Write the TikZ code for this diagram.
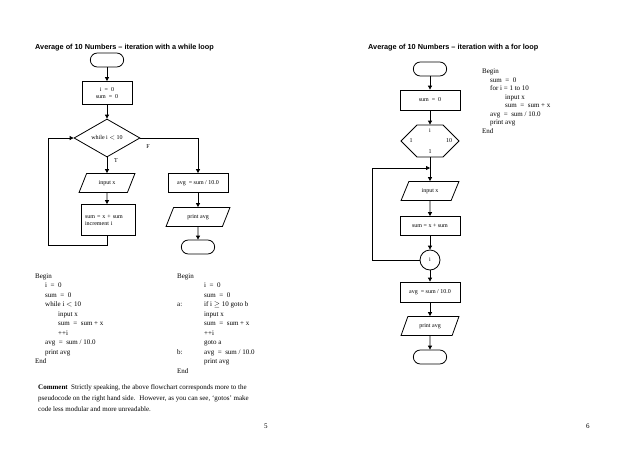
\documentclass[tikz,border=0pt]{standalone}
\usepackage{fontspec}
\setmainfont{Liberation Serif}
\setsansfont{Liberation Sans}
\usetikzlibrary{shapes.geometric,shapes.misc,shapes.symbols,arrows.meta}
\begin{document}
\begin{tikzpicture}[x=1pt,y=-1pt,
  every node/.style={font=\fontsize{6}{7}\selectfont},
  term/.style={draw,thick,rounded rectangle,minimum width=40pt,minimum height=14pt},
  proc/.style={draw,thick,rectangle,align=left},
  io/.style={draw,thick,trapezium,trapezium left angle=70,trapezium right angle=110,minimum height=19pt,trapezium stretches=true},
  dec/.style={draw,thick,diamond,aspect=1.75,inner sep=1pt},
  hex/.style={draw,thick,signal,signal to=east and west,minimum width=58pt,minimum height=32pt},
  conn/.style={draw,thick,circle,minimum size=20pt,inner sep=0pt},
  arr/.style={thick,-{Triangle[length=4pt,width=4pt]}},
  code/.style={anchor=base west,inner sep=0pt,font=\fontsize{7}{8}\selectfont},
  ttl/.style={anchor=base west,inner sep=0pt,font=\sffamily\bfseries\fontsize{7.3}{8}\selectfont}]
\useasboundingbox[fill=white] (0,0) rectangle (638,451);
% titles
\node[ttl] (t1) at (35,49) {Average of 10 Numbers -- iteration with a while loop};
\node[ttl] (t2) at (368,49) {Average of 10 Numbers -- iteration with a for loop};
% left chart
\node[term] (s1) at (107,60) {};
\node[proc,align=center,minimum width=50pt,minimum height=23pt] (b1) at (107,93) {i \ = \ 0\\sum \ = \ 0};
\node[dec,minimum width=66pt,minimum height=38pt] (d1) at (107,138) {while i $<$ 10};
\node[io,minimum width=56pt] (in1) at (107,183) {input x};
\node[proc,minimum width=54pt,minimum height=31pt,text width=46pt] (b2) at (108,220) {sum = x + sum\\increment i};
\node[proc,minimum width=60pt,minimum height=19pt] (avg1) at (198,183) {avg \ = sum / 10.0};
\node[io,minimum width=64pt] (p1) at (198,217) {print avg};
\node[term] (e1) at (198,247) {};
\node (F) at (148,147) {F};
\node (T) at (116,161) {T};
\coordinate (l1) at (107,245);
\coordinate (l2) at (48,245);
\coordinate (l3) at (48,138);
\draw[arr] (s1) -- (b1);
\draw[arr] (b1) -- (d1);
\draw[arr] (d1) -- (in1);
\draw[arr] (in1) -- (b2.north -| in1);
\draw[thick] (b2.south -| l1) -- (l1) -- (l2) -- (l3);
\draw[arr] (l3) -- (d1.west);
\draw[arr] (d1.east) -| (avg1.north);
\draw[arr] (avg1) -- (p1);
\draw[arr] (p1) -- (e1);
% right chart
\node[term] (s2) at (430,69) {};
\node[proc,minimum width=60pt,minimum height=20pt] (b3) at (430,100) {sum \ = \ 0};
\node[hex] (h) at (430,141) {};
\node (hi) at (430,131) {i};
\node (h1) at (411,141) {1};
\node (h10) at (449,141) {10};
\node (h1b) at (430,152) {1};
\coordinate (j) at (430,168);
\node[io,minimum width=58pt] (in2) at (430,191) {input x};
\node[proc,minimum width=60pt,minimum height=19pt] (b4) at (430,226) {sum = x + sum};
\node[conn] (c) at (430,260) {i};
\node[proc,minimum width=60pt,minimum height=20pt] (avg2) at (430,292) {avg \ = sum / 10.0};
\node[io,minimum width=58pt] (p2) at (430,326) {print avg};
\node[term] (e2) at (430,357) {};
\coordinate (r1) at (372,260);
\coordinate (r2) at (372,168);
\draw[arr] (s2) -- (b3);
\draw[arr] (b3) -- (h);
\draw[thick] (h) -- (j);
\draw[arr] (j) -- (in2);
\draw[arr] (in2) -- (b4);
\draw[arr] (b4) -- (c);
\draw[thick] (c.west) -- (r1) -- (r2);
\draw[arr] (r2) -- (j);
\draw[arr] (c) -- (avg2);
\draw[arr] (avg2) -- (p2);
\draw[arr] (p2) -- (e2);
% right pseudocode
\node[code] (rc1) at (482,73) {Begin};
\node[code] (rc2) at (490,82) {sum \ = \ 0};
\node[code] (rc3) at (490,90) {for i = 1 to 10};
\node[code] (rc4) at (505,99) {input x};
\node[code] (rc5) at (505,107) {sum \ = \ sum + x};
\node[code] (rc6) at (490,116) {avg \ = \ sum / 10.0};
\node[code] (rc7) at (490,124) {print avg};
\node[code] (rc8) at (482,133) {End};
% left pseudocode 1
\node[code] (a1) at (35,278) {Begin};
\node[code] (a2) at (45,287) {i \ = \ 0};
\node[code] (a3) at (45,297) {sum \ = \ 0};
\node[code] (a4) at (45,306) {while i $<$ 10};
\node[code] (a5) at (58,316) {input x};
\node[code] (a6) at (58,325) {sum \ = \ sum + x};
\node[code] (a7) at (58,335) {++i};
\node[code] (a8) at (45,344) {avg \ = \ sum / 10.0};
\node[code] (a9) at (45,354) {print avg};
\node[code] (a10) at (35,363) {End};
% left pseudocode 2
\node[code] (g1) at (177,278) {Begin};
\node[code] (g2) at (204,287) {i \ = \ 0};
\node[code] (g3) at (204,297) {sum \ = \ 0};
\node[code] (ga) at (177,306) {a:};
\node[code] (g4) at (204,306) {if i $\geq$ 10 goto b};
\node[code] (g5) at (204,316) {input x};
\node[code] (g6) at (204,325) {sum \ = \ sum + x};
\node[code] (g7) at (204,335) {++i};
\node[code] (g8) at (204,344) {goto a};
\node[code] (gb) at (177,354) {b:};
\node[code] (g9) at (204,354) {avg \ = \ sum / 10.0};
\node[code] (g10) at (204,363) {print avg};
\node[code] (g11) at (177,373) {End};
% comment
\node[code] (cm1) at (38,389) {\textbf{Comment} \ Strictly speaking, the above flowchart corresponds more to the};
\node[code] (cm2) at (38,400) {pseudocode on the right hand side. \ However, as you can see, `gotos' make};
\node[code] (cm3) at (38,411) {code less modular and more unreadable.};
\node[code] (pg5) at (264,428) {5};
\node[code] (pg6) at (586,428) {6};
\end{tikzpicture}
\end{document}
